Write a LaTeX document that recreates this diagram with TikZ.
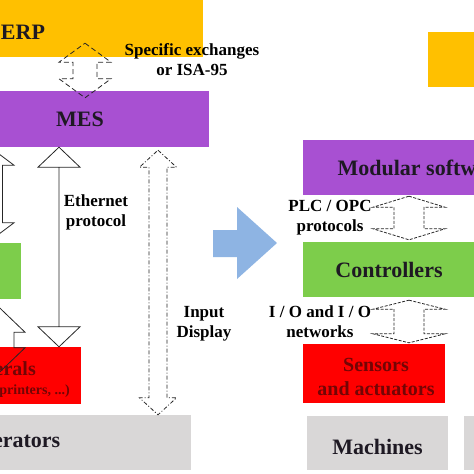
\documentclass[tikz,border=0pt]{standalone}
\usepackage{fontspec}
\setmainfont{Liberation Serif}
\usetikzlibrary{calc,positioning}

\definecolor{erpyellow}{RGB}{255,192,0}
\definecolor{mespurple}{RGB}{168,80,210}
\definecolor{ctrlgreen}{RGB}{125,205,75}
\definecolor{sensred}{RGB}{255,0,0}
\definecolor{machgrey}{RGB}{217,215,215}
\definecolor{shiftblue}{RGB}{142,180,227}
\definecolor{darkred}{RGB}{115,5,5}
\definecolor{boxink}{RGB}{30,25,35}

\tikzset{
    box/.style={inner sep=0pt, font=\fontsize{22}{26}\selectfont\bfseries, text=boxink},
    sink/.style={text height=22pt, text depth=0pt},
    note/.style={inner sep=0pt, align=center, font=\fontsize{17}{20}\selectfont\bfseries},
    outline/.style={draw=black!85, line width=0.8pt},
    longdash/.style={outline, dash pattern=on 5pt off 3pt},
    shortdash/.style={outline, dash pattern=on 3pt off 1.5pt},
    dashdotline/.style={outline, dash pattern=on 4pt off 2pt on 1pt off 2pt}
}

% double arrow outline: [style]{top tip}{bottom tip}{shaft half width}{head half width}{head length}
\newcommand\dblarrow[6][]{%
    \draw[#1] (#2) -- ++(#5,#6) -- ++(#4-#5,0) -- ($(#3)+(#4,-#6)$)
        -- ++(#5-#4,0) -- (#3) -- ++(-#5,-#6) -- ++(#5-#4,0)
        -- ($(#2)+(-#4,#6)$) -- ++(#4-#5,0) -- cycle;}

\begin{document}
\begin{tikzpicture}[x=1pt,y=-1pt]
    \useasboundingbox (0,0) rectangle (474,474);
    \clip (0,0) rectangle (474,474);

    % left column (cut at the left edge)
    \node[box, sink, fill=erpyellow, minimum width=360, minimum height=57] (erp) at (23,28.5) {ERP};
    \node[box, fill=mespurple, minimum width=258, minimum height=56] (mes) at (80,119) {MES};
    \node[box, fill=ctrlgreen, minimum width=121, minimum height=56] (ctrl left) at (-39.5,271) {};
    \node[box, fill=sensred, minimum width=172, minimum height=57] (periph) at (-5,375.5) {};
    \node[box, text=darkred, font=\fontsize{20}{24}\selectfont\bfseries, anchor=base east] (periph name) at (36,375) {Peripherals};
    \node[box, text=darkred, font=\fontsize{14}{17}\selectfont\bfseries, anchor=base east] (periph list) at (70,394) {(screens, printers, ...)};
    \node[box, fill=machgrey, minimum width=358, minimum height=55] (opers) at (12,442.5) {Operators};

    % right column
    \node[box, fill=erpyellow, minimum width=132, minimum height=55] (erp right) at (494,59.5) {};
    \node[box, fill=mespurple, minimum width=238, minimum height=55] (mod) at (422,167.5) {Modular software};
    \node[box, fill=ctrlgreen, minimum width=172, minimum height=55] (ctrl) at (389,269.5) {Controllers};
    \node[box, fill=sensred, minimum width=142, minimum height=59] (sens) at (374,373.5) {};
    \node[box, text=darkred, align=center, font=\fontsize{20}{24}\selectfont\bfseries] (sens text)
        at ($(sens.center)+(2,3.5)$) {Sensors\\and actuators};
    \node[box, sink, fill=machgrey, minimum width=141, minimum height=54] (mach) at (377.5,443) {Machines};
    \node[box, fill=machgrey, minimum width=116, minimum height=54] (mach right) at (522,443) {};

    % shift arrow
    \fill[shiftblue] (213,230) -- (237,230) -- (237,207) -- (277,243) -- (237,279) -- (237,257) -- (213,257) -- cycle;

    % arrow ends
    \coordinate (exch top) at ($(erp.south -| 85,0)+(0,-14)$);
    \coordinate (exch bot) at ($(mes.north -| 85,0)+(0,7)$);
    \coordinate (left top) at (-10,0 |- mes.south);
    \coordinate (left bot) at ($(-10,0 |- ctrl left.north)+(0,-2)$);
    \coordinate (low top) at ($(0,0 |- ctrl left.south)+(0,9)$);
    \coordinate (low bot) at ($(0,0 |- periph.north)+(0,25)$);
    \coordinate (eth top) at (59,0 |- mes.south);
    \coordinate (eth bot) at (59,0 |- periph.north);
    \coordinate (disp top) at ($(158,0 |- mes.south)+(0,3)$);
    \coordinate (disp bot) at (158,0 |- opers.north);
    \coordinate (plc top) at ($(409,0 |- mod.south)+(0,1)$);
    \coordinate (plc bot) at ($(409,0 |- ctrl.north)+(0,-2)$);
    \coordinate (io top) at ($(409,0 |- ctrl.south)+(0,3)$);
    \coordinate (io bot) at ($(409,0 |- sens.north)+(0,-1)$);

    % arrows
    \dblarrow[longdash]{exch top}{exch bot}{12}{26}{19}
    \dblarrow[outline]{left top}{left bot}{12.5}{24}{18}
    \dblarrow[outline]{low top}{low bot}{14}{25}{24}
    \dblarrow[outline]{eth top}{eth bot}{0}{21}{20}
    \dblarrow[dashdotline]{disp top}{disp bot}{9}{18.5}{17}
    \dblarrow[shortdash]{plc top}{plc bot}{15}{36}{11}
    \dblarrow[shortdash]{io top}{io bot}{15}{36}{9}

    % labels
    \node[note] (exch) at (192,60) {Specific exchanges\\or ISA-95};
    \node[note] (eth) at (96,212.5) {Ethernet\\protocol};
    \node[note] (disp) at (204,324) {Input\\Display};
    \node[note] (plc) at (330,218) {PLC / OPC\\protocols};
    \node[note] (io) at (320,322) {I / O and I / O\\networks};
\end{tikzpicture}
\end{document}
